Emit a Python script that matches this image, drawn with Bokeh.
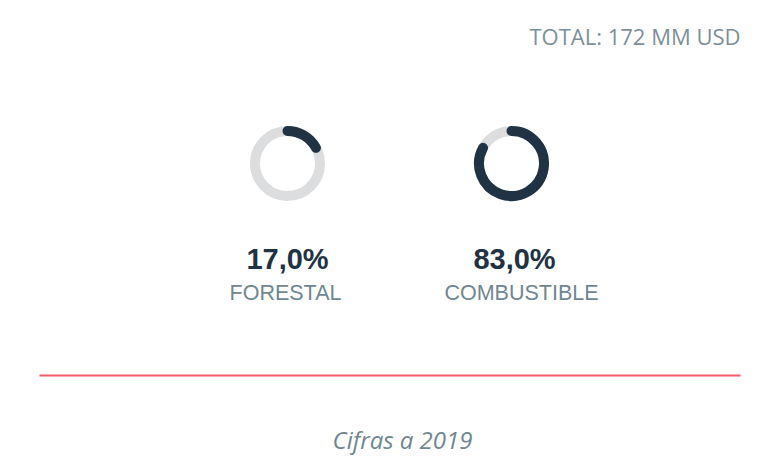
import math
from bokeh.plotting import figure
from bokeh.models import Range1d, ColumnDataSource
from bokeh.core.properties import value
from bokeh.embed import file_html
from bokeh.resources import INLINE

# ---- data ----
categories = ["FORESTAL", "COMBUSTIBLE"]
shares = [17.0, 83.0]
total_label = "TOTAL: 172 MM USD"
footnote = "Cifras a 2019"

# ---- layout (image pixel coordinates) ----
W, H = 752, 460
IMG_H = 476
def Y(img_y):
    return IMG_H - img_y

donut_x = [287, 511]
donut_y = Y(163)
ring_r = 32.5
ring_w = 10
pct_x = [287, 514]
label_x = [285, 521]

DARK = "#1f3344"
GRAY = "#dcdddf"
MUTED = "#6f8791"
RED = "#f35a6a"

p = figure(width=W, height=H, output_backend="svg", toolbar_location=None,
           x_range=Range1d(0, W), y_range=Range1d(IMG_H - H, IMG_H),
           min_border=0, outline_line_color=None)
p.xaxis.visible = False
p.yaxis.visible = False
p.xgrid.visible = False
p.ygrid.visible = False
p.background_fill_color = "white"
p.border_fill_color = "white"

src = ColumnDataSource(dict(
    x=donut_x,
    y=[donut_y] * len(shares),
    start=[math.pi / 2] * len(shares),
    end=[math.pi / 2 - 2 * math.pi * s / 100.0 for s in shares],
    pct=[("%.1f%%" % s).replace(".", ",") for s in shares],
    cat=categories,
    px=pct_x,
    lx=label_x,
    py=[Y(258)] * len(shares),
    ly=[Y(292)] * len(shares),
))

# background rings
p.arc(x="x", y="y", radius=ring_r, start_angle=0, end_angle=2 * math.pi,
      line_color=GRAY, line_width=ring_w, source=src)
# value arcs
p.arc(x="x", y="y", radius=ring_r, start_angle="start", end_angle="end",
      direction="clock", line_color=DARK, line_width=ring_w, line_cap="round",
      source=src)

p.text(x="px", y="py", text="pct", text_font=value("Liberation Sans"),
       text_font_style="bold", text_font_size="29px", text_color=DARK,
       text_align="center", text_baseline="alphabetic", source=src)
p.text(x="lx", y="ly", text="cat", text_font=value("Liberation Sans"),
       text_font_size="21.5px", text_color=MUTED,
       text_align="center", text_baseline="alphabetic", source=src)

p.text(x=[740], y=[Y(35)], text=[total_label], text_font=value("Open Sans"),
       text_font_size="22px", text_color="#7d9099",
       text_align="right", text_baseline="alphabetic")

p.line(x=[39, 740], y=[Y(375), Y(375)], line_color=RED, line_width=2)

p.text(x=[402], y=[Y(439)], text=[footnote], text_font=value("Open Sans"),
       text_font_style="italic", text_font_size="24px", text_color=MUTED,
       text_align="center", text_baseline="alphabetic")

open("out.html", "w").write(file_html(p, INLINE))
